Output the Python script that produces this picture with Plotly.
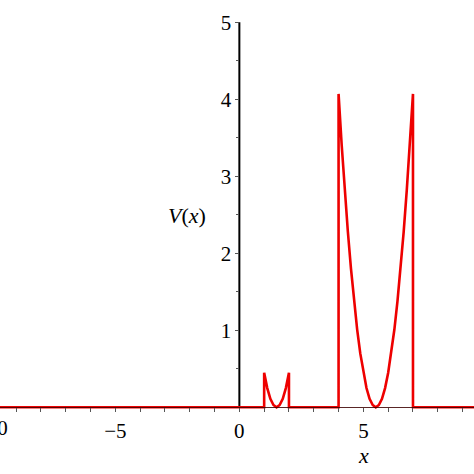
import plotly.graph_objects as go

# Potential V(x) (zero outside the two wells)
x_left = [-10.0, 1.0]
v_left = [0.0, 0.0]

x_well1 = [1.0, 1.0, 1.125, 1.25, 1.375, 1.5, 1.625, 1.75, 1.875, 2.0, 2.0]
v_well1 = [0.0, 0.45, 0.25, 0.11, 0.03, 0.0, 0.03, 0.11, 0.25, 0.45, 0.0]

x_mid = [2.0, 4.0]
v_mid = [0.0, 0.0]

x_well2 = [4.0, 4.0, 4.125, 4.25, 4.375, 4.5, 4.625, 4.75, 4.875, 5.0, 5.125, 5.25, 5.375,
           5.5, 5.625, 5.75, 5.875, 6.0, 6.125, 6.25, 6.375, 6.5, 6.625, 6.75, 6.875, 7.0, 7.0]
v_well2 = [0.0, 4.07, 3.41, 2.82, 2.28, 1.80, 1.38, 1.01, 0.70, 0.45, 0.25, 0.11, 0.03,
           0.0, 0.03, 0.11, 0.25, 0.45, 0.70, 1.01, 1.38, 1.80, 2.28, 2.82, 3.41, 4.07, 0.0]

x_right = [7.0, 10.0]
v_right = [0.0, 0.0]

x_major = [-5, 0, 5]
x_major_text = ["\u22125", "0", "5"]
x_minor = [-9, -8, -7, -6, -4, -3, -2, -1, 1, 2, 3, 4, 6, 7, 8, 9]
y_major = [1, 2, 3, 4, 5]
y_minor = [0.5, 1.5, 2.5, 3.5, 4.5]

XR = [-9.65, 9.46]
YR = [-0.866, 5.29]

xs = x_left + x_well1 + x_mid + x_well2 + x_right
vs = v_left + v_well1 + v_mid + v_well2 + v_right

px = lambda v: (v - XR[0]) / (XR[1] - XR[0])
py = lambda v: (v - YR[0]) / (YR[1] - YR[0])

FONT = "Times New Roman, Liberation Serif, DejaVu Serif, serif"

fig = go.Figure()
fig.add_trace(go.Scatter(x=xs, y=vs, mode="lines",
                         line=dict(color="#ee0000", width=2.6), hoverinfo="skip"))

fig.update_layout(
    width=474, height=474,
    margin=dict(l=0, r=0, t=0, b=0),
    paper_bgcolor="white", plot_bgcolor="white",
    showlegend=False,
    font=dict(family=FONT, size=20, color="black"),
    xaxis=dict(range=XR, anchor="free", position=py(0),
               showgrid=False, zeroline=False,
               showline=True, linecolor="rgba(60,0,0,0.85)", linewidth=1.2, layer="above traces",
               tickmode="array", tickvals=x_major, ticktext=x_major_text,
               ticks="outside", ticklen=4, tickwidth=1, tickcolor="#555",
               tickfont=dict(family=FONT, size=21),
               minor=dict(tickvals=x_minor, ticks="outside", ticklen=4, tickwidth=1, tickcolor="#555")),
    yaxis=dict(range=YR, anchor="free", position=px(0),
               showgrid=False, zeroline=False, showline=False,
               tickmode="array", tickvals=y_major,
               ticks="outside", ticklen=4, tickwidth=1, tickcolor="#555",
               tickfont=dict(family=FONT, size=21),
               minor=dict(tickvals=y_minor, ticks="outside", ticklen=3, tickwidth=1, tickcolor="#555")),
)

# y-axis line from 0 to 5
fig.add_shape(type="line", xref="x", yref="y", x0=0, x1=0, y0=0, y1=5,
              line=dict(color="black", width=2), layer="below")

# partially visible -10 label
fig.add_annotation(xref="paper", yref="paper", x=px(-10), y=py(0), yshift=-21,
                   text="\u221210", showarrow=False, xanchor="center", yanchor="middle",
                   font=dict(family=FONT, size=21))

fig.add_annotation(xref="paper", yref="paper", x=px(5), y=(474 - 455) / 474,
                   text="<i>x</i>", showarrow=False, xanchor="center", yanchor="middle",
                   font=dict(family=FONT, size=22))
fig.add_annotation(xref="paper", yref="paper", x=187 / 474, y=(474 - 215) / 474,
                   text="<i>V</i>(<i>x</i>)", showarrow=False, xanchor="center", yanchor="middle",
                   font=dict(family=FONT, size=22))

fig.write_html("out.html", config={"displayModeBar": False},
               post_script="document.body.style.margin='0';document.body.style.padding='0';")
